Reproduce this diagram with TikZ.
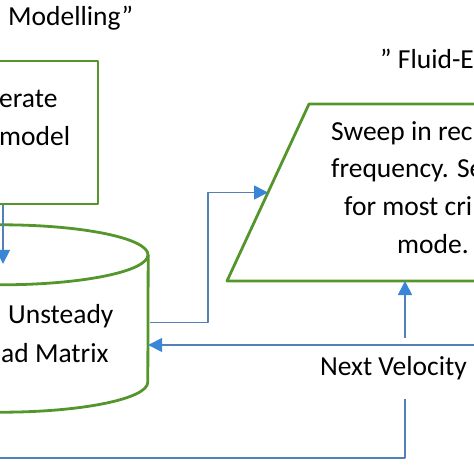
\documentclass[tikz,border=0pt]{standalone}
\usepackage{fontspec}
\setmainfont{Carlito}
\usetikzlibrary{calc,arrows.meta}

\definecolor{stagegreen}{RGB}{84,150,44}
\definecolor{linkblue}{RGB}{84,128,184}
\definecolor{tipblue}{RGB}{58,134,214}

\begin{document}
\begin{tikzpicture}[
    x=1pt,
    y=-1pt,
    line join=round,
    stage/.style={
        draw=stagegreen,
        line width=2.8pt
    },
    caption/.style={
        anchor=base west,
        inner sep=0pt,
        font=\fontsize{27.5}{38}\selectfont
    },
    link/.style={draw=linkblue, line width=1.7pt},
    flow/.style={link, -{Triangle[length=14pt,width=14pt,color=tipblue]}}
]
    % Frame of the cropped figure
    \useasboundingbox (0,0) rectangle (474,474);
    \clip (0,0) rectangle (474,474);

    % Headings
    \node[caption] (modtitle) at (8,25) {Modelling”};
    \node[caption] (fluidtitle) at (380,68) {” Fluid-E};

    % Model box
    \node[stage, inner sep=0pt, minimum width=190pt, minimum height=143pt] (gen) at (3,132.5) {};

    % Load matrix drum: body node, caps drawn round it
    \node[inner sep=0pt, minimum width=294pt, minimum height=127pt] (load) at (1,318.5) {};
    \draw[stage] (load.north) ellipse [x radius=147pt, y radius=30pt];
    \draw[stage] (load.north west) -- (load.south west)
        arc[start angle=180, end angle=360, x radius=147pt, y radius=30pt]
        -- (load.north east);

    % Sweep parallelogram
    \coordinate (sweepbl) at (227,281);
    \coordinate (sweeptl) at (309,104);
    \coordinate (sweepin) at ($(sweepbl)!0.5!(sweeptl)$);
    \draw[stage] (sweepbl) -- (sweeptl) -- ++(260,0) -- ++(-82,177) -- cycle;

    \node[caption, anchor=base, text width=170pt, align=flush left,
          inner ysep=18pt, text height=19pt, text depth=6pt] (nextvel) at (405,375)
        {Next Velocity};

    % Text left inside the frame
    \node[caption] (genA) at (-1,107) {erate};
    \node[caption] (genB) at (-1,145) {model};

    \node[caption] (loadA) at (8,323) {Unsteady};
    \node[caption] (loadB) at (1,362) {ad Matrix};

    \node[caption] (sweepA) at (331,140) {Sweep in rec};
    \node[caption] (sweepB) at (331,177) {frequency. Se};
    \node[caption] (sweepC) at (344,215) {for most cri};
    \node[caption] (sweepD) at (397,253) {mode.};

    % Connectors
    \coordinate (retin) at (490,345);
    \coordinate (loopin) at (-20,458);

    \draw[flow, shorten >=-9pt] (gen.south) -- (gen.south |- load.north);
    \draw[flow] ($(load.east)+(2,4)$) -- ++(58,0) |- (sweepin);
    \draw[flow] (retin) -- (retin -| load.east);
    \draw[flow] (nextvel.north) -- (nextvel.north |- sweepbl);
    \draw[link] (loopin) -| (nextvel.south);
\end{tikzpicture}
\end{document}
